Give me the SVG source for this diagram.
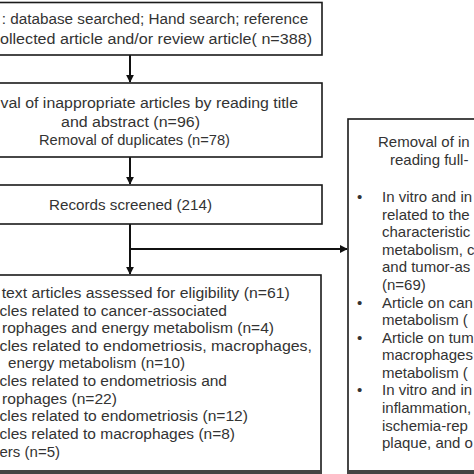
<svg xmlns="http://www.w3.org/2000/svg" width="474" height="474" viewBox="0 0 474 474">
<defs>
<style>
.box{fill:#fff;stroke:#1a1a1a;stroke-width:1.6}
.t{font-family:"Liberation Sans",Arial,sans-serif;font-size:15.3px;fill:#333}
.r{font-family:"Liberation Sans",Arial,sans-serif;font-size:15px;fill:#333}
.c{stroke:#111;stroke-width:2;fill:none}
.base{fill:#444}
</style>
<marker id="ah" viewBox="0 0 10 10" refX="9" refY="5" markerWidth="4" markerHeight="4" orient="auto" markerUnits="strokeWidth">
<path d="M0,0 L10,5 L0,10 z" fill="#111"/>
</marker>
</defs>
<rect width="474" height="474" fill="#fff"/>
<g id="connectors">
<line class="c" x1="130" y1="55" x2="130" y2="82" marker-end="url(#ah)"/>
<line class="c" x1="130" y1="157" x2="130" y2="184" marker-end="url(#ah)"/>
<line class="c" x1="130" y1="224" x2="130" y2="274" marker-end="url(#ah)"/>
<line class="c" x1="130" y1="249" x2="347" y2="249" marker-end="url(#ah)"/>
</g>
<g id="identification">
<rect class="box" x="-10" y="2.5" width="332" height="52.5"/>
<text class="t" x="1.7" y="24" textLength="306.5" lengthAdjust="spacingAndGlyphs">: database searched; Hand search; reference</text>
<text class="t" x="0" y="44" textLength="312" lengthAdjust="spacingAndGlyphs">ollected article and/or review article( n=388)</text>
</g>
<g id="removal">
<rect class="box" x="-10" y="83" width="332" height="74"/>
<text class="t" x="0.5" y="108" textLength="297.5" lengthAdjust="spacingAndGlyphs">val of inappropriate articles by reading title</text>
<text class="t" x="61" y="127" textLength="139" lengthAdjust="spacingAndGlyphs">and abstract (n=96)</text>
<text class="t" x="39" y="145" textLength="191" lengthAdjust="spacingAndGlyphs">Removal of duplicates (n=78)</text>
</g>
<g id="screened">
<rect class="box" x="-10" y="185" width="332" height="39"/>
<text class="t" x="49" y="210" textLength="163" lengthAdjust="spacingAndGlyphs">Records screened (214)</text>
</g>
<g id="eligibility">
<rect class="box" x="-10" y="275" width="331" height="196"/>
<rect class="base" x="-10" y="470" width="332" height="4"/>
<text class="t" x="1.7" y="298" textLength="288" lengthAdjust="spacingAndGlyphs">text articles assessed for eligibility (n=61)</text>
<text class="t" x="-0.5" y="315.5" textLength="227.5" lengthAdjust="spacingAndGlyphs">cles related to cancer-associated</text>
<text class="t" x="2" y="333" textLength="272" lengthAdjust="spacingAndGlyphs">rophages and energy metabolism (n=4)</text>
<text class="t" x="-0.5" y="350.5" textLength="312.5" lengthAdjust="spacingAndGlyphs">cles related to endometriosis, macrophages,</text>
<text class="t" x="8" y="368" textLength="177" lengthAdjust="spacingAndGlyphs">energy metabolism (n=10)</text>
<text class="t" x="-0.5" y="386" textLength="227.5" lengthAdjust="spacingAndGlyphs">cles related to endometriosis and</text>
<text class="t" x="2" y="403.5" textLength="115" lengthAdjust="spacingAndGlyphs">rophages (n=22)</text>
<text class="t" x="-0.5" y="421" textLength="248.5" lengthAdjust="spacingAndGlyphs">cles related to endometriosis (n=12)</text>
<text class="t" x="-0.5" y="439" textLength="235.5" lengthAdjust="spacingAndGlyphs">cles related to macrophages (n=8)</text>
<text class="t" x="-0.5" y="456.5" textLength="60.5" lengthAdjust="spacingAndGlyphs">ers (n=5)</text>
</g>
<g id="excluded">
<rect class="box" x="348" y="119" width="140" height="352"/>
<rect class="base" x="347" y="470" width="130" height="4"/>
<text class="r" x="378" y="147">Removal of in</text>
<text class="r" x="390" y="165">reading full-</text>
<text class="r" x="357" y="202">•</text>
<text class="r" x="382" y="202">In vitro and in</text>
<text class="r" x="382" y="219.5">related to the</text>
<text class="r" x="382" y="237">characteristic</text>
<text class="r" x="382" y="254.5">metabolism, c</text>
<text class="r" x="382" y="272">and tumor-as</text>
<text class="r" x="382" y="290">(n=69)</text>
<text class="r" x="357" y="307.5">•</text>
<text class="r" x="382" y="307.5">Article on can</text>
<text class="r" x="382" y="325">metabolism (</text>
<text class="r" x="357" y="342.5">•</text>
<text class="r" x="382" y="342.5">Article on tum</text>
<text class="r" x="382" y="360">macrophages</text>
<text class="r" x="382" y="377.5">metabolism (</text>
<text class="r" x="357" y="395">•</text>
<text class="r" x="382" y="395">In vitro and in</text>
<text class="r" x="382" y="413">inflammation,</text>
<text class="r" x="382" y="430.5">ischemia-rep</text>
<text class="r" x="382" y="448">plaque, and o</text>
</g>
</svg>
